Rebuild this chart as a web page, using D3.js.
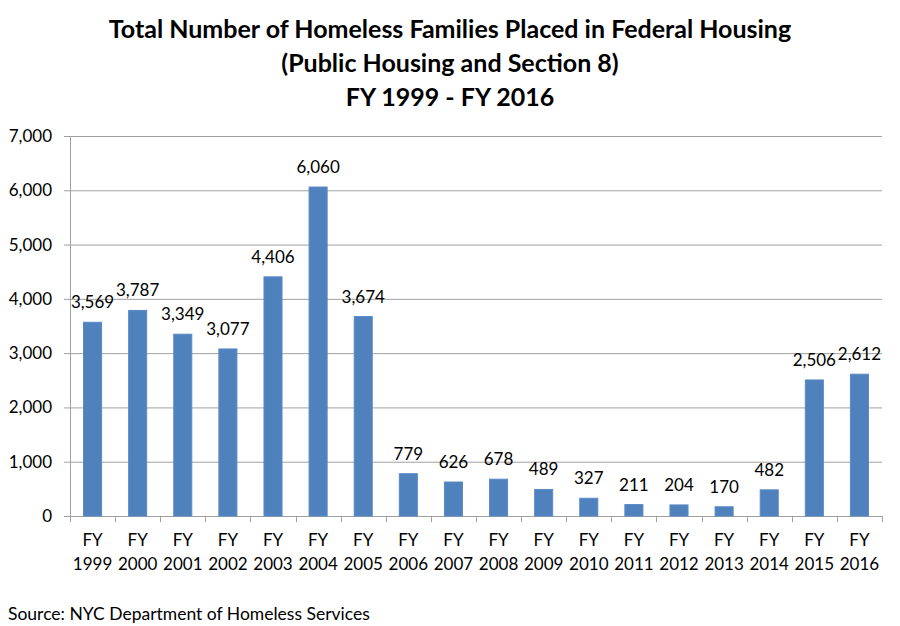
<!DOCTYPE html>
<html>
<head>
<meta charset="utf-8">
<script src="https://cdn.jsdelivr.net/npm/d3@7"></script>
<style>
  body { margin: 0; background: #fff; }
  svg { display: block; font-family: Lato, "Open Sans", sans-serif; }
</style>
</head>
<body>
<script>
const years = ["1999", "2000", "2001", "2002", "2003", "2004", "2005", "2006", "2007",
               "2008", "2009", "2010", "2011", "2012", "2013", "2014", "2015", "2016"];
const placements = [3569, 3787, 3349, 3077, 4406, 6060, 3674, 779, 626,
                    678, 489, 327, 211, 204, 170, 482, 2506, 2612];
const yTicks = [0, 1000, 2000, 3000, 4000, 5000, 6000, 7000];
const titleLines = [
  "Total Number of Homeless Families Placed in Federal Housing",
  "(Public Housing and Section 8)",
  "FY 1999 - FY 2016"
];
const source = "Source: NYC Department of Homeless Services";

const width = 900, height = 626;
const margin = { top: 136, right: 18, bottom: 110, left: 70 };

const svg = d3.select("body").append("svg")
    .attr("width", width)
    .attr("height", height);

const x = d3.scaleBand()
    .domain(years)
    .range([margin.left, width - margin.right])
    .paddingInner(0.6)
    .paddingOuter(0.3);

const y = d3.scaleLinear()
    .domain([0, 7000])
    .range([height - margin.bottom, margin.top]);

const fmt = d3.format(",");

// title
svg.append("g")
    .attr("font-weight", "bold")
    .attr("font-size", 25)
    .attr("text-anchor", "middle")
  .selectAll("text")
  .data(titleLines)
  .join("text")
    .attr("x", 450)
    .attr("y", (d, i) => 38 + i * 34)
    .attr("fill", "#000")
    .text(d => d);

// gridlines + y labels
const yAxis = svg.append("g")
    .attr("transform", `translate(${margin.left},0)`)
    .call(d3.axisLeft(y)
        .tickValues(yTicks)
        .tickFormat(fmt)
        .tickSize(-(width - margin.right - margin.left))
        .tickPadding(18));
yAxis.select(".domain").remove();
yAxis.selectAll(".tick line")
    .attr("stroke", "#a0a0a0")
    .attr("x1", -6);
yAxis.selectAll(".tick text")
    .attr("font-size", 17)
    .attr("font-family", "Lato, sans-serif")
    .attr("fill", "#000");

// left axis line
svg.append("line")
    .attr("x1", margin.left + 0.5).attr("x2", margin.left + 0.5)
    .attr("y1", y(7000)).attr("y2", y(0) + 5)
    .attr("stroke", "#a0a0a0");

// x axis ticks at band boundaries
const boundaries = d3.range(years.length + 1).map(i => margin.left + i * x.step());
svg.append("g")
  .selectAll("line")
  .data(boundaries)
  .join("line")
    .attr("x1", d => Math.round(d) + 0.5)
    .attr("x2", d => Math.round(d) + 0.5)
    .attr("y1", y(0))
    .attr("y2", y(0) + 6)
    .attr("stroke", "#a0a0a0");

// bars
svg.append("g")
  .selectAll("rect")
  .data(placements)
  .join("rect")
    .attr("x", (d, i) => x(years[i]))
    .attr("y", d => y(d))
    .attr("width", x.bandwidth())
    .attr("height", d => y(0) - y(d))
    .attr("fill", "#4f81bd")
    .attr("stroke", "#5a8ac6")
    .attr("stroke-width", 1);

// value labels
svg.append("g")
    .attr("font-size", 17)
    .attr("text-anchor", "middle")
  .selectAll("text")
  .data(placements)
  .join("text")
    .attr("x", (d, i) => x(years[i]) + x.bandwidth() / 2)
    .attr("y", d => y(d) - 14)
    .attr("fill", "#000")
    .text(d => fmt(d));

// category labels
const cat = svg.append("g")
    .attr("font-size", 17)
    .attr("text-anchor", "middle")
  .selectAll("text")
  .data(years)
  .join("text")
    .attr("fill", "#000");
cat.append("tspan").attr("y", 546).attr("x", d => x(d) + x.bandwidth() / 2).text("FY");
cat.append("tspan").attr("y", 570).attr("x", d => x(d) + x.bandwidth() / 2).text(d => d);

// source
svg.append("text")
    .attr("x", 8)
    .attr("y", 620)
    .attr("font-size", 17.5)
    .attr("fill", "#000")
    .text(source);
</script>
</body>
</html>
